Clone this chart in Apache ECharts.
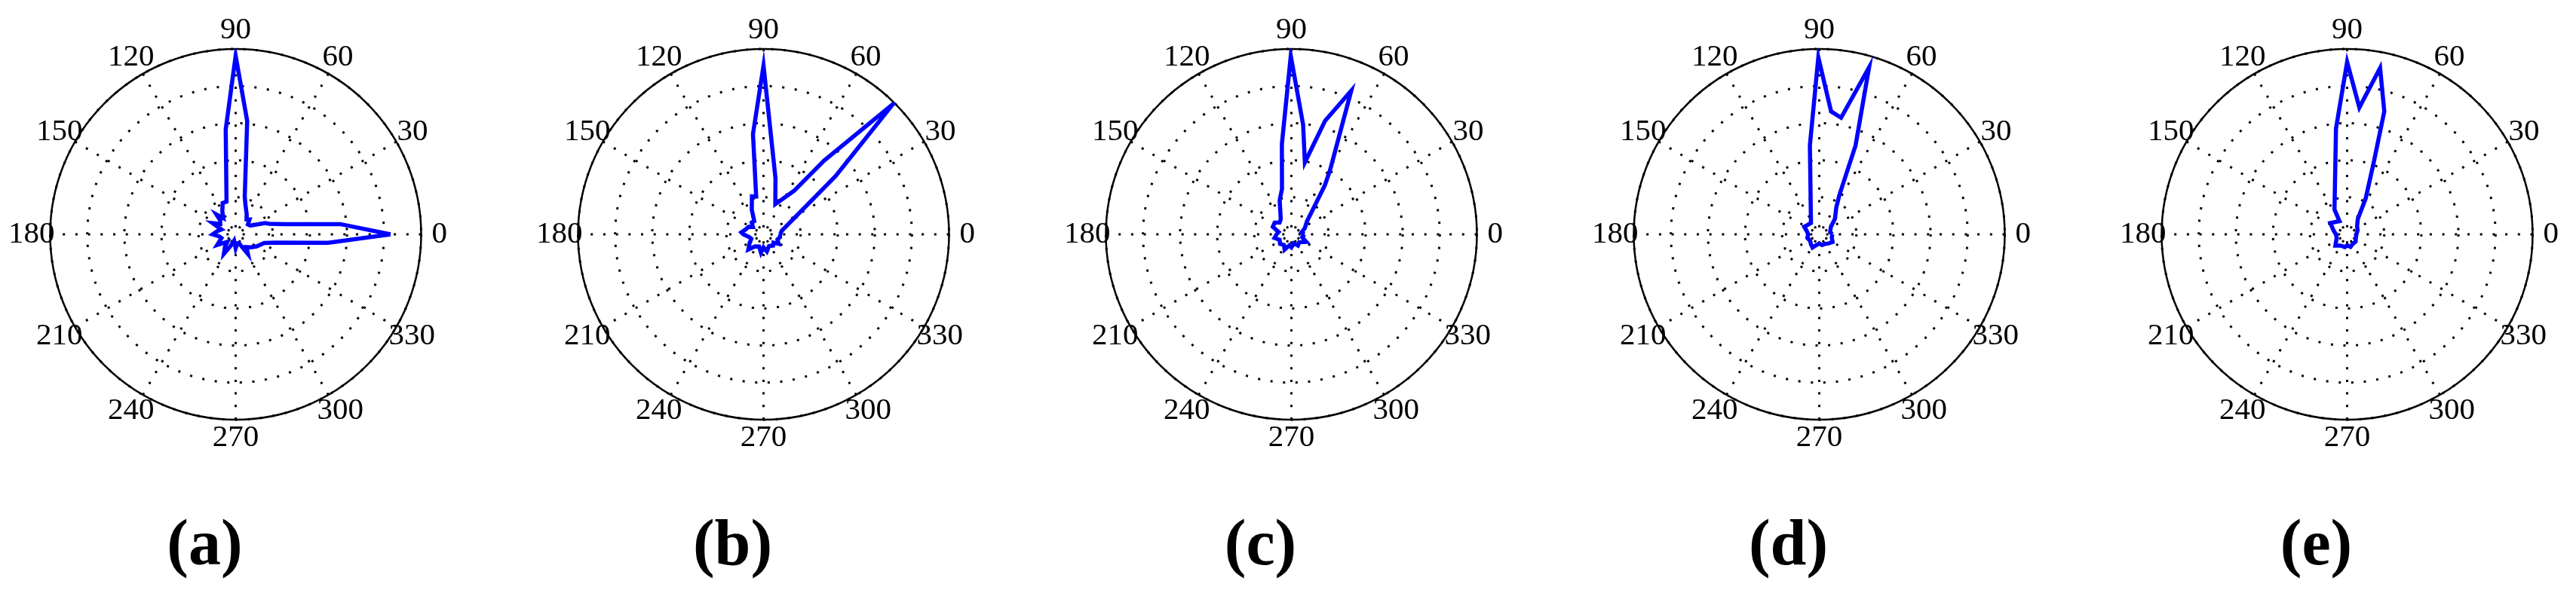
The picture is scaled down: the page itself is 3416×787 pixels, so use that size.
<!DOCTYPE html>
<html>
<head>
<meta charset="utf-8">
<script src="https://cdn.jsdelivr.net/npm/echarts@6/dist/echarts.min.js"></script>
<style>
html, body { margin: 0; padding: 0; background: #fff; }
#chart { width: 3416px; height: 787px; }
</style>
</head>
<body>
<div id="chart"></div>
<script>
// panel tags under each plot
var panelNames = ['(a)', '(b)', '(c)', '(d)', '(e)'];
// angle tick labels, degrees
var angleTicks = [0, 30, 60, 90, 120, 150, 180, 210, 240, 270, 300, 330];

// vertices of each trace: angle in degrees, radius relative to the outer ring
var angA = [0, 5.6, 12, 17.5, 21, 31, 39, 47, 54, 61, 72, 76.5, 84.2, 90, 95.4, 105.6, 112.5, 120, 127, 134,
  138, 146, 154, 161, 170, 180, 187, 195, 210, 222, 230, 239, 246, 256, 270, 280, 290, 299, 302, 310,
  319.5, 330, 343, 348, 354.8];
var radA = [.835, .566, .265, .19, .17, .092, .085, .11, .10, .123, .17, .21, .615, .963, .569, .183, .183, .144, .11, .15,
  .112, .10, .138, .081, .10, .124, .09, .079, .115, .06, .09, .123, .071, .035, .075, .05, .05, .046, .125, .09,
  .108, .13, .161, .217, .50];

var angB = [0, 11, 39, 45.2, 50.6, 55, 68.7, 78, 90, 96, 101, 107, 115.5, 125, 135, 145, 153, 165, 175, 180,
  190, 200, 213, 225, 235, 250, 262, 270, 281, 295, 310, 320, 328, 340, 350];
var radB = [.09, .10, .50, .99, .515, .286, .175, .31, .91, .544, .208, .214, .147, .087, .09, .07, .09, .10, .12, .109,
  .08, .07, .09, .116, .08, .07, .10, .07, .094, .07, .08, .07, .096, .08, .09];

var angC = [0, 10, 25, 40, 48, 55.7, 59, 67.4, 73.5, 79.4, 83.9, 90.2, 96, 101.7, 109, 125, 135, 145, 158, 170,
  180, 192, 205, 220, 235, 246, 260, 270, 285, 300, 315, 333, 345];
var radC = [.07, .055, .08, .11, .164, .32, .405, .84, .638, .395, .595, .963, .49, .25, .194, .10, .09, .11, .108, .07,
  .08, .093, .07, .08, .07, .09, .06, .07, .05, .07, .06, .09, .06];

var angD = [0, 12, 33, 45, 57.5, 63, 67.8, 73.4, 79.4, 84.5, 90.3, 96, 126, 140, 153, 165, 180, 197, 215, 230,
  243, 255, 270, 285, 300, 315, 330, 345];
var radD = [.07, .06, .075, .12, .17, .24, .518, .94, .64, .666, .955, .483, .076, .08, .091, .07, .06, .067, .06, .07,
  .08, .06, .05, .06, .06, .07, .083, .07];

var angE = [0, 20, 40, 55, 62.7, 69.7, 73.2, 78.8, 84.5, 90, 96, 117, 120, 146, 165, 180, 200, 224, 240, 260,
  270, 285, 300, 320, 340];
var radE = [.05, .06, .07, .10, .218, .413, .693, .915, .687, .93, .574, .15, .082, .109, .075, .06, .06, .088, .07, .07,
  .06, .07, .06, .06, .05];

var traces = [[angA, radA], [angB, radB], [angC, radC], [angD, radD], [angE, radE]];

var chart = echarts.init(document.getElementById('chart'));

var FONT = 'Liberation Serif';
var R = 246;
var CY = 311;
// label padding [top, right, bottom, left], pushes each label out to ~1.1 R
var labelPad = {
  0: [0, 0, 0, 44], 30: [0, 0, 7, 27], 60: [0, 0, 27, 7], 90: [0, 0, 34, 0],
  120: [0, 0, 27, 0], 150: [0, 16, 7, 0], 180: [0, 24, 0, 0], 210: [7, 16, 0, 0],
  240: [27, 0, 0, 0], 270: [34, 0, 0, 0], 300: [27, 0, 0, 0], 330: [7, 0, 0, 16]
};
var rich = {};
angleTicks.forEach(function (t) {
  rich['t' + t] = { padding: labelPad[t], fontFamily: FONT, fontSize: 41, color: '#000' };
});

var dotted = { color: '#000', width: 3, type: [3, 13.7] };

var polar = [], angleAxis = [], radiusAxis = [], series = [], graphic = [];
traces.forEach(function (tr, i) {
  var cx = 312.5 + 700 * i;
  polar.push({ center: [cx, CY], radius: R });
  angleAxis.push({
    polarIndex: i,
    type: 'value',
    min: 0, max: 360, interval: 30,
    startAngle: 0, clockwise: false,
    axisLine: { lineStyle: { color: '#000', width: 2.5 } },
    axisTick: { show: false },
    splitLine: { show: true, lineStyle: dotted },
    axisLabel: {
      margin: -30,
      fontFamily: FONT, fontSize: 41, color: '#000',
      formatter: function (v) { return v >= 360 ? '' : '{t' + v + '|' + v + '}'; },
      rich: rich
    }
  });
  radiusAxis.push({
    polarIndex: i,
    type: 'value',
    min: 0, max: 1, interval: 0.2,
    axisLine: { show: false },
    axisTick: { show: false },
    axisLabel: { show: false },
    splitLine: { show: true, lineStyle: dotted }
  });
  var pts = tr[0].map(function (a, k) { return [tr[1][k], a]; });
  pts.push([tr[1][0], tr[0][0] + 360]);
  series.push({
    type: 'line',
    coordinateSystem: 'polar',
    polarIndex: i,
    data: pts,
    symbol: 'none',
    silent: true,
    clip: false,
    lineStyle: { color: '#0000ff', width: 5.5, join: 'miter', miterLimit: 10 }
  });
  graphic.push({
    type: 'text',
    x: cx - 41,
    y: 727,
    style: {
      text: panelNames[i],
      font: 'bold 86px "Liberation Serif"',
      fill: '#000',
      align: 'center',
      verticalAlign: 'middle'
    }
  });
});

chart.setOption({
  animation: false,
  backgroundColor: '#fff',
  polar: polar,
  angleAxis: angleAxis,
  radiusAxis: radiusAxis,
  series: series,
  graphic: graphic
});
</script>
</body>
</html>
